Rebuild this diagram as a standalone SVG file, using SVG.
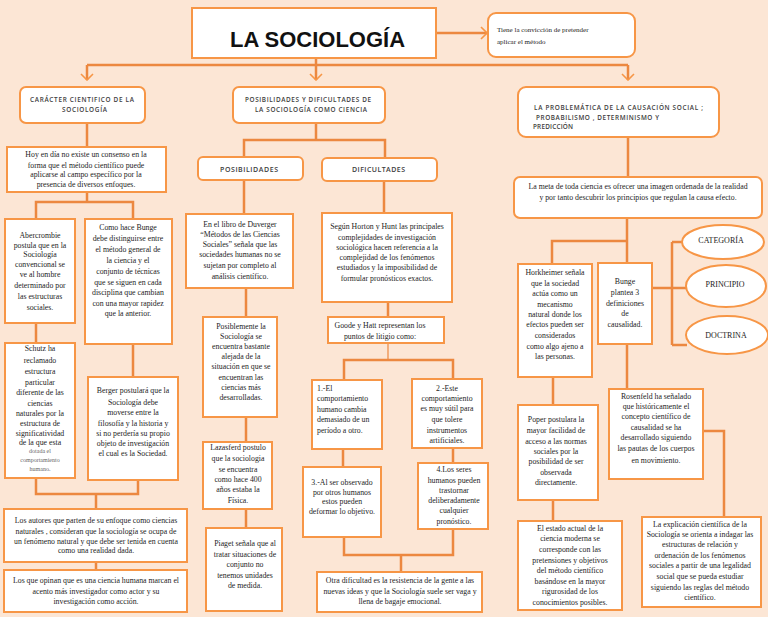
<svg xmlns="http://www.w3.org/2000/svg" width="768" height="617" viewBox="0 0 768 617">
<defs>
<style>
.n{fill:#fff;stroke:#F79646;stroke-width:2}
.c{fill:none;stroke:#EC8840;stroke-width:2.5}
.ct{fill:none;stroke:#EC8840;stroke-width:1.2}
.s{font-family:"Liberation Serif",serif;font-size:7.8px;fill:#1c1c1c;text-anchor:middle}
.sl{text-anchor:start}
.sm{font-size:6px;fill:#666}
.h{font-family:"Open Sans","DejaVu Sans",sans-serif;font-size:6.4px;font-weight:600;fill:#3d3d3d}
.el{font-family:"Liberation Serif",serif;font-size:8px;fill:#1c1c1c;text-anchor:middle}
.title{font-family:"Liberation Sans",Arial,sans-serif;font-size:22px;font-weight:bold;fill:#111}
</style>
<marker id="chev" viewBox="0 0 8 14" refX="7" refY="7" markerWidth="8" markerHeight="14" markerUnits="userSpaceOnUse" orient="auto">
<path d="M1,1 L7,7 L1,13" fill="none" stroke="#F79646" stroke-width="1.6"/>
</marker>
</defs>
<rect x="0" y="0" width="768" height="617" fill="#FCE6D5"/>

<g id="connectors">
<path class="c" d="M316,58 V65 M87,65 H628"/>
<path class="c" d="M87,65 V80" marker-end="url(#chev)"/>
<path class="c" d="M316,65 V80" marker-end="url(#chev)"/>
<path class="c" d="M628,65 V80" marker-end="url(#chev)"/>
<path class="c" d="M436,33 H487" marker-end="url(#chev)"/>
<path class="c" d="M87,123 V147 M87,192 V202 M36,219 V202 H133 V219"/>
<path class="c" d="M36,323 V343 M133,344 V377"/>
<path class="c" d="M36,478 V494 H138 V480 M96,494 V509 M96,562 V570"/>
<path class="c" d="M316,123 V140 M244,157 V140 H385 V158"/>
<path class="c" d="M244,180 V214 M384,182 V213 M246,288 V317 M388,302 V317 M246,417 V442 M246,509 V528"/>
<path class="ct" d="M388,343 V360"/>
<path class="c" d="M344,380 V360 H453 V379 M343,449 V467 M453,448 V463"/>
<path class="c" d="M344,537 V555 H453 V529 M401,555 V572"/>
<path class="c" d="M628,137 V177 M627,218 V263 M552,264 V241 H627"/>
<path class="c" d="M652,288 H672 M672,242 V345 M672,242 H683 M672,288 H687 M672,345 H687"/>
<path class="c" d="M627,344 V389 M703,431 H724 V517 M553,377 V405 M553,500 V521"/>
</g>

<g id="title">
<rect class="n" x="192" y="8" width="244" height="50"/>
<text class="title" x="230" y="47" textLength="175" lengthAdjust="spacingAndGlyphs">LA SOCIOLOGÍA</text>
</g>

<g id="tiene">
<rect class="n" x="488" y="13" width="147" height="44" rx="8"/>
<text class="s sl" style="font-size:7px"><tspan x="497" y="31.5">Tiene la convicción de pretender</tspan><tspan x="497" y="43.5">aplicar el método</tspan></text>
</g>

<g id="caracter">
<rect class="n" x="20" y="87" width="125" height="36" rx="6"/>
<text class="h"><tspan x="30" y="101.5" textLength="104">CARÁCTER CIENTIFICO DE LA</tspan><tspan x="62" y="111.5" textLength="45">SOCIOLOGÍA</tspan></text>
</g>

<g id="posdif">
<rect class="n" x="233" y="87" width="152" height="36" rx="6"/>
<text class="h"><tspan x="245" y="101.5" textLength="126">POSIBILIDADES Y DIFICULTADES DE</tspan><tspan x="255" y="111.5" textLength="112">LA SOCIOLOGÍA COMO CIENCIA</tspan></text>
</g>

<g id="problematica">
<rect class="n" x="518" y="87" width="201" height="50" rx="8"/>
<text class="h"><tspan x="534" y="109.5" textLength="169">LA PROBLEMÁTICA DE LA CAUSACIÓN SOCIAL ;</tspan><tspan x="536" y="119.5" textLength="123">PROBABILISMO , DETERMINISMO Y</tspan><tspan x="533" y="129" textLength="40">PREDICCIÓN</tspan></text>
</g>

<g id="hoy">
<rect class="n" x="7" y="147" width="159" height="45"/>
<text class="s"><tspan x="86" y="157">Hoy en día no existe un consenso en la</tspan><tspan x="86" y="167.5">forma que el método científico puede</tspan><tspan x="86" y="177">aplicarse al campo específico por la</tspan><tspan x="86" y="186.5">presencia de diversos enfoques.</tspan></text>
</g>

<g id="abercrombie">
<rect class="n" x="5" y="219" width="70" height="104"/>
<text class="s"><tspan x="40" y="237.5">Abercrombie</tspan><tspan x="40" y="247.5">postula que en la</tspan><tspan x="40" y="256.5">Sociología</tspan><tspan x="40" y="266.5">convencional se</tspan><tspan x="40" y="276.5">ve al hombre</tspan><tspan x="40" y="287.5">determinado por</tspan><tspan x="40" y="298.5">las estructuras</tspan><tspan x="40" y="309.5">sociales.</tspan></text>
</g>

<g id="bunge1">
<rect class="n" x="85" y="219" width="87" height="125"/>
<text class="s"><tspan x="128" y="229.5">Como hace Bunge</tspan><tspan x="128" y="240.5">debe distinguirse entre</tspan><tspan x="128" y="251.5">el método general de</tspan><tspan x="128" y="262.5">la ciencia y el</tspan><tspan x="128" y="273.5">conjunto de técnicas</tspan><tspan x="128" y="284.5">que se siguen en cada</tspan><tspan x="128" y="294.5">disciplina que cambian</tspan><tspan x="128" y="305.5">con una mayor rapidez</tspan><tspan x="128" y="315.5">que la anterior.</tspan></text>
</g>

<g id="schutz">
<rect class="n" x="5" y="343" width="70" height="135"/>
<text class="s"><tspan x="40" y="350.5">Schutz ha</tspan><tspan x="40" y="362.5">reclamado</tspan><tspan x="40" y="373.5">estructura</tspan><tspan x="40" y="384.5">particular</tspan><tspan x="40" y="394.5">diferente de las</tspan><tspan x="40" y="405.5">ciencias</tspan><tspan x="40" y="415.5">naturales por la</tspan><tspan x="40" y="425.5">estructura de</tspan><tspan x="40" y="435.5">significatividad</tspan><tspan x="40" y="444.5">de la que esta</tspan></text>
<text class="s sm"><tspan x="40" y="453">dotada el</tspan><tspan x="40" y="462">comportamiento</tspan><tspan x="40" y="471">humano.</tspan></text>
</g>

<g id="berger">
<rect class="n" x="88" y="377" width="90" height="103"/>
<text class="s"><tspan x="133" y="392.5">Berger postulará que la</tspan><tspan x="133" y="404.5">Sociología debe</tspan><tspan x="133" y="414.5">moverse entre la</tspan><tspan x="133" y="425.5">filosofía y la historia y</tspan><tspan x="133" y="435.5">si no perdería su propio</tspan><tspan x="133" y="445.5">objeto de investigación</tspan><tspan x="133" y="455.5">el cual es la Sociedad.</tspan></text>
</g>

<g id="autores">
<rect class="n" x="4" y="509" width="183" height="53"/>
<text class="s"><tspan x="96" y="522.5">Los autores que parten de su enfoque como ciencias</tspan><tspan x="96" y="533.5">naturales , consideran que la sociología se ocupa de</tspan><tspan x="96" y="543.5">un fenómeno natural y que debe ser tenida en cuenta</tspan><tspan x="96" y="552.5">como una realidad dada.</tspan></text>
</g>

<g id="opinan">
<rect class="n" x="4" y="570" width="183" height="42"/>
<text class="s"><tspan x="96" y="582.5">Los que opinan que es una ciencia humana marcan el</tspan><tspan x="96" y="593.5">acento más investigador como actor y su</tspan><tspan x="96" y="603.5">investigación como acción.</tspan></text>
</g>

<g id="posibilidades">
<rect class="n" x="198" y="157" width="105" height="23" rx="5"/>
<text class="h" style="font-size:7px"><tspan x="220" y="171.5" textLength="58">POSIBILIDADES</tspan></text>
</g>

<g id="dificultades">
<rect class="n" x="322" y="158" width="115" height="23" rx="5"/>
<text class="h" style="font-size:7px"><tspan x="352" y="172" textLength="53">DIFICULTADES</tspan></text>
</g>

<g id="duverger">
<rect class="n" x="186" y="214" width="107" height="74"/>
<text class="s"><tspan x="240" y="226.5">En el libro de Duverger</tspan><tspan x="240" y="237">“Métodos de las Ciencias</tspan><tspan x="240" y="247">Sociales” señala que las</tspan><tspan x="240" y="257">sociedades humanas no se</tspan><tspan x="240" y="267.5">sujetan por completo al</tspan><tspan x="240" y="278.5">análisis científico.</tspan></text>
</g>

<g id="horton">
<rect class="n" x="322" y="213" width="130" height="89"/>
<text class="s"><tspan x="387" y="228.5">Según Horton y Hunt las principales</tspan><tspan x="387" y="239.5">complejidades de investigación</tspan><tspan x="387" y="249.5">sociológica hacen referencia a la</tspan><tspan x="387" y="259.5">complejidad de los fenómenos</tspan><tspan x="387" y="270">estudiados y la imposibilidad de</tspan><tspan x="387" y="281">formular pronósticos exactos.</tspan></text>
</g>

<g id="posiblemente">
<rect class="n" x="203" y="317" width="74" height="100"/>
<text class="s"><tspan x="241" y="328.5">Posiblemente la</tspan><tspan x="241" y="338.5">Sociología se</tspan><tspan x="241" y="348.5">encuentra bastante</tspan><tspan x="241" y="358.5">alejada de la</tspan><tspan x="241" y="368.5">situación en que se</tspan><tspan x="241" y="379.5">encuentran las</tspan><tspan x="241" y="389.5">ciencias más</tspan><tspan x="241" y="399.5">desarrolladas.</tspan></text>
</g>

<g id="lazasferd">
<rect class="n" x="203" y="442" width="69" height="67"/>
<text class="s"><tspan x="238" y="449.5">Lazasferd postulo</tspan><tspan x="238" y="460.5">que la sociologia</tspan><tspan x="238" y="471.5">se encuentra</tspan><tspan x="238" y="481.5">como hace 400</tspan><tspan x="238" y="491.5">años estaba la</tspan><tspan x="238" y="502.5">Física.</tspan></text>
</g>

<g id="piaget">
<rect class="n" x="206" y="528" width="76" height="83"/>
<text class="s"><tspan x="245" y="545.5">Piaget señala que al</tspan><tspan x="245" y="556.5">tratar situaciones de</tspan><tspan x="245" y="566.5">conjunto no</tspan><tspan x="245" y="577.5">tenemos unidades</tspan><tspan x="245" y="587.5">de medida.</tspan></text>
</g>

<g id="goode">
<rect class="n" x="328" y="317" width="116" height="26"/>
<text class="s"><tspan x="380" y="327.5">Goode y Hatt representan los</tspan><tspan x="380" y="338.5">puntos de litigio como:</tspan></text>
</g>

<g id="d1">
<rect class="n" x="312" y="380" width="70" height="69"/>
<text class="s sl"><tspan x="317" y="390.5">1.-El</tspan><tspan x="317" y="400.5">comportamiento</tspan><tspan x="317" y="411.5">humano cambia</tspan><tspan x="317" y="421.5">demasiado de un</tspan><tspan x="317" y="432.5">período a otro.</tspan></text>
</g>

<g id="d2">
<rect class="n" x="412" y="379" width="70" height="69"/>
<text class="s"><tspan x="447" y="390.5">2.-Este</tspan><tspan x="447" y="400.5">comportamiento</tspan><tspan x="447" y="410.5">es muy sútil para</tspan><tspan x="447" y="421.5">que tolere</tspan><tspan x="447" y="432.5">instrumentos</tspan><tspan x="447" y="442.5">artificiales.</tspan></text>
</g>

<g id="d3">
<rect class="n" x="303" y="467" width="78" height="70"/>
<text class="s"><tspan x="342" y="484.5">3.-Al ser observado</tspan><tspan x="342" y="494.5">por otros humanos</tspan><tspan x="342" y="503.5">estos pueden</tspan><tspan x="342" y="513.5">deformar lo objetivo.</tspan></text>
</g>

<g id="d4">
<rect class="n" x="418" y="463" width="70" height="66"/>
<text class="s"><tspan x="454" y="471.5">4.Los seres</tspan><tspan x="454" y="482.5">humanos pueden</tspan><tspan x="454" y="492.5">trastornar</tspan><tspan x="454" y="502.5">deliberadamente</tspan><tspan x="454" y="512.5">cualquier</tspan><tspan x="454" y="523.5">pronóstico.</tspan></text>
</g>

<g id="otra">
<rect class="n" x="317" y="572" width="165" height="40"/>
<text class="s"><tspan x="400" y="582.5">Otra dificultad es la resistencia de la gente a las</tspan><tspan x="400" y="593.5">nuevas ideas y que la Sociología suele ser vaga y</tspan><tspan x="400" y="603.5">llena de bagaje emocional.</tspan></text>
</g>

<g id="meta">
<rect class="n" x="514" y="177" width="248" height="41" rx="6"/>
<text class="s"><tspan x="638" y="188.5">La meta de toda ciencia es ofrecer una imagen ordenada de la realidad</tspan><tspan x="638" y="199.5">y por tanto descubrir los principios que regulan la causa efecto.</tspan></text>
</g>

<g id="horkheimer">
<rect class="n" x="518" y="264" width="74" height="113"/>
<text class="s"><tspan x="555" y="274.5">Horkheimer señala</tspan><tspan x="555" y="285.5">que la sociedad</tspan><tspan x="555" y="295.5">actúa como un</tspan><tspan x="555" y="306.5">mecanismo</tspan><tspan x="555" y="316.5">natural donde los</tspan><tspan x="555" y="326.5">efectos pueden ser</tspan><tspan x="555" y="337.5">considerados</tspan><tspan x="555" y="348.5">como algo ajeno a</tspan><tspan x="555" y="358.5">las personas.</tspan></text>
</g>

<g id="bunge2">
<rect class="n" x="598" y="263" width="54" height="81"/>
<text class="s"><tspan x="625" y="283.5">Bunge</tspan><tspan x="625" y="294.5">plantea 3</tspan><tspan x="625" y="305.5">definiciones</tspan><tspan x="625" y="315.5">de</tspan><tspan x="625" y="326.5">causalidad.</tspan></text>
</g>

<g id="categoria">
<ellipse class="n" cx="723" cy="242" rx="41" ry="17"/>
<text class="el" x="721" y="243">CATEGORÍA</text>
</g>
<g id="principio">
<ellipse class="n" cx="726" cy="286" rx="40" ry="21"/>
<text class="el" x="725" y="287">PRINCIPIO</text>
</g>
<g id="doctrina">
<ellipse class="n" cx="727" cy="335" rx="41" ry="19"/>
<text class="el" x="726" y="338">DOCTRINA</text>
</g>

<g id="rosenfeld">
<rect class="n" x="609" y="389" width="94" height="90"/>
<text class="s"><tspan x="656" y="398.5">Rosenfeld ha señalado</tspan><tspan x="656" y="408.5">que históricamente el</tspan><tspan x="656" y="418.5">concepto científico de</tspan><tspan x="656" y="429.5">causalidad se ha</tspan><tspan x="656" y="439.5">desarrollado siguiendo</tspan><tspan x="656" y="450.5">las pautas de los cuerpos</tspan><tspan x="656" y="462.5">en movimiento.</tspan></text>
</g>

<g id="poper">
<rect class="n" x="518" y="405" width="80" height="95"/>
<text class="s"><tspan x="556" y="421.5">Poper postulara la</tspan><tspan x="556" y="432.5">mayor facilidad de</tspan><tspan x="556" y="443.5">acceso a las normas</tspan><tspan x="556" y="453.5">sociales por la</tspan><tspan x="556" y="463.5">posibilidad de ser</tspan><tspan x="556" y="474.5">observada</tspan><tspan x="556" y="484.5">directamente.</tspan></text>
</g>

<g id="estado">
<rect class="n" x="518" y="521" width="104" height="89"/>
<text class="s"><tspan x="570" y="530.5">El estado actual de la</tspan><tspan x="570" y="540.5">ciencia moderna se</tspan><tspan x="570" y="551.5">corresponde con las</tspan><tspan x="570" y="562.5">pretensiones y objetivos</tspan><tspan x="570" y="572.5">del método científico</tspan><tspan x="570" y="583.5">basándose en la mayor</tspan><tspan x="570" y="593.5">rigurosidad de los</tspan><tspan x="570" y="604.5">conocimientos posibles.</tspan></text>
</g>

<g id="explicacion">
<rect class="n" x="642" y="517" width="119" height="90"/>
<text class="s"><tspan x="700" y="526.5">La explicación científica de la</tspan><tspan x="700" y="536.5">Sociología se orienta a indagar las</tspan><tspan x="700" y="546.5">estructuras de relación y</tspan><tspan x="700" y="557.5">ordenación de los fenómenos</tspan><tspan x="700" y="567.5">sociales a partir de una legalidad</tspan><tspan x="700" y="578.5">social que se pueda estudiar</tspan><tspan x="700" y="589.5">siguiendo las reglas del método</tspan><tspan x="700" y="599.5">científico.</tspan></text>
</g>
</svg>
